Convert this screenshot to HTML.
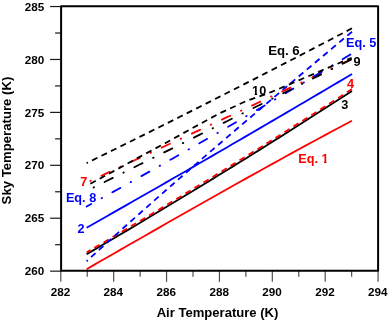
<!DOCTYPE html>
<html><head><meta charset="utf-8"><style>
html,body{margin:0;padding:0;background:#fff;width:388px;height:320px;overflow:hidden}
svg{display:block}
text{font-family:"Liberation Sans",Arial,Helvetica,sans-serif;font-weight:bold}
.tl{font-size:11.7px}
.cl{font-size:12.7px}
.at{font-size:13.07px}
</style></head><body>
<svg width="388" height="320" viewBox="0 0 388 320">
<rect width="388" height="320" fill="#fff"/>
<g stroke="#505050" stroke-width="1.2">
<line x1="60.80" y1="270.85" x2="60.80" y2="281.85" />
<line x1="87.24" y1="270.85" x2="87.24" y2="276.85" />
<line x1="113.68" y1="270.85" x2="113.68" y2="281.85" />
<line x1="140.12" y1="270.85" x2="140.12" y2="276.85" />
<line x1="166.56" y1="270.85" x2="166.56" y2="281.85" />
<line x1="193.00" y1="270.85" x2="193.00" y2="276.85" />
<line x1="219.44" y1="270.85" x2="219.44" y2="281.85" />
<line x1="245.88" y1="270.85" x2="245.88" y2="276.85" />
<line x1="272.32" y1="270.85" x2="272.32" y2="281.85" />
<line x1="298.76" y1="270.85" x2="298.76" y2="276.85" />
<line x1="325.20" y1="270.85" x2="325.20" y2="281.85" />
<line x1="351.64" y1="270.85" x2="351.64" y2="276.85" />
<line x1="378.08" y1="270.85" x2="378.08" y2="281.85" />
<line x1="50.1" y1="271.15" x2="61.1" y2="271.15" stroke="#1a1a1a" />
<line x1="55.1" y1="244.69" x2="61.1" y2="244.69" stroke="#1a1a1a" />
<line x1="50.1" y1="218.23" x2="61.1" y2="218.23" stroke="#1a1a1a" />
<line x1="55.1" y1="191.77" x2="61.1" y2="191.77" stroke="#1a1a1a" />
<line x1="50.1" y1="165.31" x2="61.1" y2="165.31" stroke="#1a1a1a" />
<line x1="55.1" y1="138.85" x2="61.1" y2="138.85" stroke="#1a1a1a" />
<line x1="50.1" y1="112.39" x2="61.1" y2="112.39" stroke="#1a1a1a" />
<line x1="55.1" y1="85.93" x2="61.1" y2="85.93" stroke="#1a1a1a" />
<line x1="50.1" y1="59.47" x2="61.1" y2="59.47" stroke="#1a1a1a" />
<line x1="55.1" y1="33.01" x2="61.1" y2="33.01" stroke="#1a1a1a" />
<line x1="50.1" y1="6.55" x2="61.1" y2="6.55" stroke="#1a1a1a" />
</g>
<path d="M86.60,269.16 L93.23,265.35 L99.87,261.54 L106.50,257.74 L113.14,253.93 L119.77,250.13 L126.41,246.32 L133.04,242.52 L139.68,238.73 L146.31,234.93 L152.95,231.14 L159.58,227.35 L166.22,223.57 L172.85,219.79 L179.49,216.01 L186.12,212.25 L192.76,208.48 L199.39,204.72 L206.03,200.97 L212.66,197.22 L219.30,193.49 L225.94,189.75 L232.57,186.03 L239.20,182.31 L245.84,178.60 L252.47,174.90 L259.11,171.21 L265.75,167.53 L272.38,163.86 L279.01,160.20 L285.65,156.55 L292.28,152.91 L298.92,149.28 L305.55,145.66 L312.19,142.06 L318.82,138.46 L325.46,134.88 L332.10,131.31 L338.73,127.76 L345.37,124.22 L352.00,120.69" stroke="#ff0000" stroke-width="1.8" fill="none"/>
<path d="M86.60,227.68 L93.23,223.93 L99.87,220.17 L106.50,216.41 L113.14,212.65 L119.77,208.88 L126.41,205.10 L133.04,201.32 L139.68,197.54 L146.31,193.75 L152.95,189.96 L159.58,186.16 L166.22,182.36 L172.85,178.55 L179.49,174.74 L186.12,170.92 L192.76,167.10 L199.39,163.27 L206.03,159.44 L212.66,155.61 L219.30,151.77 L225.94,147.92 L232.57,144.08 L239.20,140.22 L245.84,136.36 L252.47,132.50 L259.11,128.63 L265.75,124.76 L272.38,120.88 L279.01,117.00 L285.65,113.12 L292.28,109.22 L298.92,105.33 L305.55,101.43 L312.19,97.52 L318.82,93.62 L325.46,89.70 L332.10,85.78 L338.73,81.86 L345.37,77.93 L352.00,74.00" stroke="#0000ff" stroke-width="1.8" fill="none"/>
<path d="M86.60,254.22 L93.23,250.35 L99.87,246.48 L106.50,242.59 L113.14,238.69 L119.77,234.78 L126.41,230.86 L133.04,226.93 L139.68,222.98 L146.31,219.03 L152.95,215.06 L159.58,211.09 L166.22,207.10 L172.85,203.10 L179.49,199.09 L186.12,195.07 L192.76,191.04 L199.39,187.00 L206.03,182.95 L212.66,178.88 L219.30,174.81 L225.94,170.72 L232.57,166.62 L239.20,162.51 L245.84,158.39 L252.47,154.26 L259.11,150.12 L265.75,145.97 L272.38,141.80 L279.01,137.63 L285.65,133.44 L292.28,129.25 L298.92,125.04 L305.55,120.82 L312.19,116.59 L318.82,112.35 L325.46,108.09 L332.10,103.83 L338.73,99.56 L345.37,95.27 L352.00,90.97" stroke="#000000" stroke-width="1.8" fill="none"/>
<path d="M86.60,252.42 L93.23,248.54 L99.87,244.65 L106.50,240.75 L113.14,236.84 L119.77,232.91 L126.41,228.98 L133.04,225.04 L139.68,221.09 L146.31,217.12 L152.95,213.15 L159.58,209.16 L166.22,205.17 L172.85,201.16 L179.49,197.15 L186.12,193.12 L192.76,189.08 L199.39,185.04 L206.03,180.98 L212.66,176.91 L219.30,172.83 L225.94,168.74 L232.57,164.64 L239.20,160.53 L245.84,156.41 L252.47,152.28 L259.11,148.14 L265.75,143.99 L272.38,139.83 L279.01,135.66 L285.65,131.47 L292.28,127.28 L298.92,123.08 L305.55,118.86 L312.19,114.64 L318.82,110.40 L325.46,106.16 L332.10,101.90 L338.73,97.64 L345.37,93.36 L352.00,89.07" stroke="#ff0000" stroke-width="1.8" fill="none" stroke-dasharray="6.053 4.539" stroke-dashoffset="1.553"/>
<path d="M86.60,261.24 L93.23,255.19 L99.87,249.17 L106.50,243.16 L113.14,237.18 L119.77,231.22 L126.41,225.28 L133.04,219.36 L139.68,213.46 L146.31,207.57 L152.95,201.71 L159.58,195.86 L166.22,190.03 L172.85,184.22 L179.49,178.43 L186.12,172.64 L192.76,166.88 L199.39,161.13 L206.03,155.39 L212.66,149.67 L219.30,143.96 L225.94,138.26 L232.57,132.57 L239.20,126.90 L245.84,121.24 L252.47,115.59 L259.11,109.94 L265.75,104.31 L272.38,98.69 L279.01,93.07 L285.65,87.46 L292.28,81.86 L298.92,76.27 L305.55,70.68 L312.19,65.10 L318.82,59.52 L325.46,53.95 L332.10,48.39 L338.73,42.82 L345.37,37.26 L352.00,31.70" stroke="#0000ff" stroke-width="1.8" fill="none" stroke-dasharray="6.051 4.538" stroke-dashoffset="4.551"/>
<path d="M86.60,163.11 L93.23,159.86 L99.87,156.60 L106.50,153.33 L113.14,150.06 L119.77,146.78 L126.41,143.50 L133.04,140.21 L139.68,136.92 L146.31,133.62 L152.95,130.31 L159.58,127.00 L166.22,123.68 L172.85,120.35 L179.49,117.02 L186.12,113.68 L192.76,110.34 L199.39,106.99 L206.03,103.63 L212.66,100.27 L219.30,96.91 L225.94,93.53 L232.57,90.15 L239.20,86.77 L245.84,83.38 L252.47,79.98 L259.11,76.58 L265.75,73.17 L272.38,69.75 L279.01,66.33 L285.65,62.90 L292.28,59.47 L298.92,56.03 L305.55,52.58 L312.19,49.13 L318.82,45.67 L325.46,42.21 L332.10,38.74 L338.73,35.27 L345.37,31.78 L352.00,28.30" stroke="#000000" stroke-width="1.8" fill="none" stroke-dasharray="6.045 4.533" stroke-dashoffset="4.545"/>
<path d="M86.60,182.68 L93.23,179.58 L99.87,176.49 L106.50,173.39 L113.14,170.30 L119.77,167.20 L126.41,164.11 L133.04,161.02 L139.68,157.92 L146.31,154.83 L152.95,151.73 L159.58,148.64 L166.22,145.54 L172.85,142.45 L179.49,139.35 L186.12,136.26 L192.76,133.16 L199.39,130.07 L206.03,126.98 L212.66,123.88 L219.30,120.79 L225.94,117.69 L232.57,114.60 L239.20,111.50 L245.84,108.41 L252.47,105.31 L259.11,102.22 L265.75,99.13 L272.38,96.03 L279.01,92.94 L285.65,89.84 L292.28,86.75 L298.92,83.65 L305.55,80.56 L312.19,77.46 L318.82,74.37 L325.46,71.27 L332.10,68.18 L338.73,65.09 L345.37,61.99 L352.00,58.90" stroke="#ff0000" stroke-width="1.8" fill="none" stroke-dasharray="9.2 11.72 0.6 11.72" stroke-dashoffset="16.92" stroke-linecap="round"/>
<path d="M86.60,206.48 L93.23,202.84 L99.87,199.19 L106.50,195.53 L113.14,191.86 L119.77,188.18 L126.41,184.49 L133.04,180.79 L139.68,177.09 L146.31,173.37 L152.95,169.65 L159.58,165.91 L166.22,162.17 L172.85,158.42 L179.49,154.65 L186.12,150.88 L192.76,147.10 L199.39,143.31 L206.03,139.51 L212.66,135.70 L219.30,131.89 L225.94,128.06 L232.57,124.22 L239.20,120.38 L245.84,116.52 L252.47,112.66 L259.11,108.79 L265.75,104.90 L272.38,101.01 L279.01,97.11 L285.65,93.20 L292.28,89.28 L298.92,85.35 L305.55,81.42 L312.19,77.47 L318.82,73.51 L325.46,69.55 L332.10,65.57 L338.73,61.59 L345.37,57.59 L352.00,53.59" stroke="#0000ff" stroke-width="1.8" fill="none" stroke-dasharray="9.2 11.72 0.6 11.72" stroke-dashoffset="3.87" stroke-linecap="round"/>
<path d="M86.60,190.93 L93.23,187.63 L99.87,184.33 L106.50,181.04 L113.14,177.74 L119.77,174.45 L126.41,171.15 L133.04,167.86 L139.68,164.56 L146.31,161.26 L152.95,157.97 L159.58,154.67 L166.22,151.38 L172.85,148.08 L179.49,144.78 L186.12,141.49 L192.76,138.19 L199.39,134.90 L206.03,131.60 L212.66,128.31 L219.30,125.01 L225.94,121.71 L232.57,118.42 L239.20,115.12 L245.84,111.83 L252.47,108.53 L259.11,105.23 L265.75,101.94 L272.38,98.64 L279.01,95.35 L285.65,92.05 L292.28,88.76 L298.92,85.46 L305.55,82.16 L312.19,78.87 L318.82,75.57 L325.46,72.28 L332.10,68.98 L338.73,65.68 L345.37,62.39 L352.00,59.09" stroke="#000000" stroke-width="1.8" fill="none" stroke-dasharray="9.2 11.72 0.6 11.72" stroke-dashoffset="13.18" stroke-linecap="round"/>
<path d="M87.24,185.40 L113.68,171.16 L140.12,156.63 L166.56,142.50 L193.00,127.76 L219.44,113.44 L245.88,101.20 L272.32,91.70 L298.76,80.30 L325.20,69.00 L351.64,57.80" stroke="#000000" stroke-width="1.8" fill="none" stroke-dasharray="6.046 4.534" stroke-dashoffset="6.980"/>
<rect x="61.1" y="6.2" width="317.00" height="264.65" fill="none" stroke="#000" stroke-width="2" stroke-linejoin="round"/>
<text x="60.50" y="295.8" text-anchor="middle" class="tl">282</text>
<text x="113.38" y="295.8" text-anchor="middle" class="tl">284</text>
<text x="166.26" y="295.8" text-anchor="middle" class="tl">286</text>
<text x="219.14" y="295.8" text-anchor="middle" class="tl">288</text>
<text x="272.02" y="295.8" text-anchor="middle" class="tl">290</text>
<text x="324.90" y="295.8" text-anchor="middle" class="tl">292</text>
<text x="377.78" y="295.8" text-anchor="middle" class="tl">294</text>
<text x="44.2" y="275.30" text-anchor="end" class="tl">260</text>
<text x="44.2" y="222.38" text-anchor="end" class="tl">265</text>
<text x="44.2" y="169.46" text-anchor="end" class="tl">270</text>
<text x="44.2" y="116.54" text-anchor="end" class="tl">275</text>
<text x="44.2" y="63.62" text-anchor="end" class="tl">280</text>
<text x="44.2" y="10.70" text-anchor="end" class="tl">285</text>
<defs><clipPath id="c1a" clipPathUnits="userSpaceOnUse"><rect x="250.10" y="74.80" width="12.00" height="17.904"/><rect x="254.664" y="74.80" width="2.543" height="22"/></clipPath><clipPath id="c1b" clipPathUnits="userSpaceOnUse"><rect x="319.45" y="143.20" width="12.00" height="17.904"/><rect x="324.014" y="143.20" width="2.543" height="22"/></clipPath></defs>
<text x="268.2" y="54.9" fill="#000000" class="cl" textLength="31.5" lengthAdjust="spacingAndGlyphs">Eq. 6</text>
<text x="346.0" y="46.7" fill="#0000ff" class="cl">Eq. 5</text>
<text x="353.4" y="65.7" fill="#000000" class="cl">9</text>
<text x="252.1" y="94.8" fill="#000000" class="cl" clip-path="url(#c1a)">1</text><text x="259.15" y="94.8" fill="#000000" class="cl">0</text>
<text x="346.9" y="88.2" fill="#ff0000" class="cl">4</text>
<text x="341.2" y="109.3" fill="#000000" class="cl">3</text>
<text x="298.2" y="163.2" fill="#ff0000" class="cl">Eq.</text><text x="321.45" y="163.2" fill="#ff0000" class="cl" clip-path="url(#c1b)">1</text>
<text x="80.2" y="185.8" fill="#ff0000" class="cl">7</text>
<text x="65.9" y="201.8" fill="#0000ff" class="cl">Eq. 8</text>
<text x="77.4" y="232.8" fill="#0000ff" class="cl">2</text>
<text x="157" y="316.9" class="at" transform="translate(-0.33,0)">Air Temperature (K)</text>
<text transform="translate(11.3,204.4) rotate(-90)" x="0" y="0" class="at" style="font-size:13.17px">Sky Temperature (K)</text>
</svg>
</body></html>
